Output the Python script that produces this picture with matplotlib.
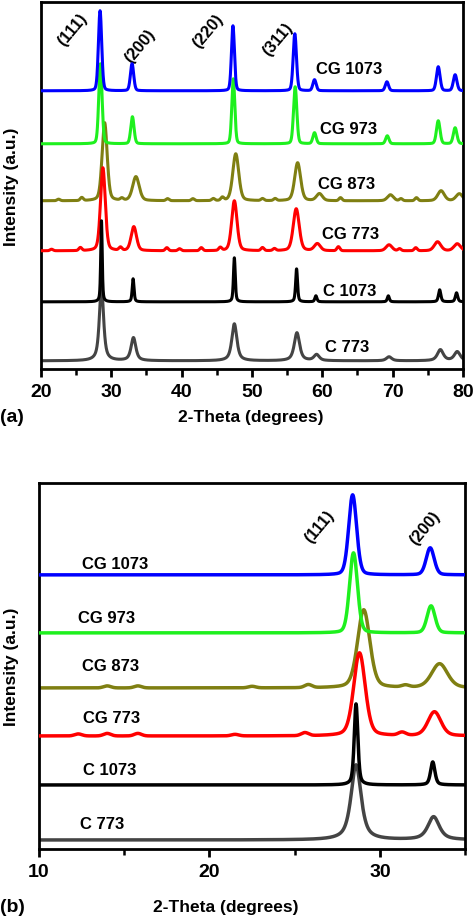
import matplotlib.pyplot as plt
import numpy as np

plt.rcParams['font.family'] = ['Liberation Sans', 'DejaVu Sans']
plt.rcParams['font.weight'] = 'bold'

# samples, bottom to top
samples = ["C 773", "C 1073", "CG 773", "CG 873", "CG 973", "CG 1073"]
colors = ['#444444', '#000000', '#ff0000', '#7f7f12', '#1ef01e', '#0000ff']

# peak positions (2-theta, deg)
peak_pos = [
    [28.6, 33.15, 47.5, 56.4, 59.2, 69.5, 76.8, 79.2],
    [28.6, 33.1, 47.5, 56.35, 59.1, 69.4, 76.7, 79.1],
    [28.8, 33.2, 47.5, 56.3, 59.3, 69.5, 76.4, 79.2],
    [29.05, 33.5, 47.7, 56.5, 59.6, 69.7, 76.9, 79.5],
    [28.45, 33.0, 47.35, 56.15, 58.9, 69.25, 76.5, 78.9],
    [28.4, 32.95, 47.3, 56.1, 58.9, 69.2, 76.5, 78.9],
]
# peak heights (a.u.)
peak_h = [
    [75, 23, 37, 28, 6, 4, 11, 9],
    [81, 23, 44, 33, 6, 6, 12, 9],
    [83, 24, 50, 42, 7, 6, 9, 7],
    [78, 24, 47, 38, 7, 6, 10, 7],
    [80, 27, 65, 57, 11, 8, 23, 16],
    [80, 27, 65, 57, 11, 9, 24, 16],
]
# peak widths (FWHM, deg)
peak_w = [
    [0.7, 0.8, 0.85, 0.9, 0.9, 0.9, 1.0, 1.0],
    [0.25, 0.3, 0.3, 0.32, 0.35, 0.35, 0.4, 0.4],
    [0.8, 0.9, 0.9, 1.0, 1.0, 1.0, 1.1, 1.1],
    [0.85, 1.1, 1.0, 1.0, 1.0, 1.0, 1.1, 1.1],
    [0.55, 0.55, 0.5, 0.55, 0.55, 0.55, 0.6, 0.6],
    [0.55, 0.55, 0.5, 0.55, 0.55, 0.55, 0.6, 0.6],
]
lorentz_frac = [0.7, 0.5, 0.3, 0.3, 0.2, 0.2]

# small background bumps (position, height)
bumps = [
    [],
    [],
    [(12.3, 2), (14.0, 2.5), (15.8, 2.5), (21.5, 1.5), (25.6, 3), (31.3, 3), (37.9, 3),
     (39.7, 2), (42.8, 3), (45.5, 3), (51.5, 3), (53.2, 2), (62.3, 4), (71.0, 2), (73.3, 3)],
    [(14.0, 2), (15.8, 2), (22.5, 1.5), (25.8, 3), (31.5, 2), (38.0, 2), (41.6, 2), (44.5, 2),
     (45.8, 3), (51.5, 2), (53.3, 2), (62.6, 3), (71.2, 2), (73.4, 3)],
    [],
    [],
]

# vertical offsets of each pattern in the two panels
offset_a = [8, 67, 118, 168, 225, 278]
offset_b = [9, 64, 113, 161, 216, 274]

hkl_a = ["(111)", "(200)", "(220)", "(311)"]
hkl_b = ["(111)", "(200)"]


def profile(x, i):
    y = np.zeros_like(x)
    eta = lorentz_frac[i]
    for p, h, w in zip(peak_pos[i], peak_h[i], peak_w[i]):
        g = np.exp(-4 * np.log(2) * ((x - p) / w) ** 2)
        l = 1 / (1 + 4 * ((x - p) / w) ** 2)
        y += h * ((1 - eta) * g + eta * l)
    for p, h in bumps[i]:
        y += h * np.exp(-4 * np.log(2) * ((x - p) / 0.5) ** 2)
    return y


zorders = [1, 4, 3, 2, 5, 6]

fig = plt.figure(figsize=(4.74, 9.2), dpi=100)

# ---- panel (a)
ax1 = fig.add_axes([0.0865, 0.598, 0.890, 0.399])
xa = np.arange(20, 80.01, 0.02)
for i in range(len(samples)):
    ax1.plot(xa, profile(xa, i) + offset_a[i], color=colors[i], lw=2.2, zorder=zorders[i])
ax1.set_xlim(20, 80)
ax1.set_ylim(0, 367)
ax1.set_xticks(np.arange(20, 81, 10))
ax1.set_xticks(np.arange(25, 80, 10), minor=True)

lab_a_x = [60.4, 60.1, 60.0, 59.4, 59.7, 59.1]
lab_a_y = [22, 78, 135, 185, 240, 300]
for i, s in enumerate(samples):
    ax1.text(lab_a_x[i], lab_a_y[i], s, fontsize=12, fontweight='bold', ha='left', va='center')
hkl_a_x = [24.4, 34.1, 43.8, 53.6]
hkl_a_y = [340, 323, 338, 330]
for t, x, y in zip(hkl_a, hkl_a_x, hkl_a_y):
    ax1.text(x, y, t, fontsize=12, fontweight='bold', rotation=50, ha='center', va='center')

# ---- panel (b)
ax2 = fig.add_axes([0.0823, 0.0761, 0.899, 0.398])
xb = np.arange(10, 35.01, 0.01)
for i in range(len(samples)):
    ax2.plot(xb, profile(xb, i) + offset_b[i], color=colors[i], lw=2.5, zorder=zorders[i])
ax2.set_xlim(10, 35)
ax2.set_ylim(0, 366)
ax2.set_xticks([10, 20, 30])
ax2.set_xticks([15, 25, 35], minor=True)

lab_b_x = [12.4, 12.6, 12.6, 12.5, 12.3, 12.5]
lab_b_y = [25, 79, 131, 183, 231, 285]
for i, s in enumerate(samples):
    ax2.text(lab_b_x[i], lab_b_y[i], s, fontsize=12, fontweight='bold', ha='left', va='center')
hkl_b_x = [26.46, 32.65]
hkl_b_y = [323, 322]
for t, x, y in zip(hkl_b, hkl_b_x, hkl_b_y):
    ax2.text(x, y, t, fontsize=12, fontweight='bold', rotation=50, ha='center', va='center')

for ax in (ax1, ax2):
    ax.set_yticks([])
    for sp in ax.spines.values():
        sp.set_linewidth(2)
    ax.tick_params(axis='x', which='major', direction='out', length=6, width=2,
                   labelsize=14, pad=4)
    ax.tick_params(axis='x', which='minor', direction='out', length=4, width=1.8)
    for lbl in ax.get_xticklabels():
        lbl.set_fontweight('bold')

fig.text(0.025, 0.797, "Intensity (a.u.)", rotation=90, ha='center', va='center',
         fontsize=12.5, fontweight='bold')
fig.text(0.025, 0.275, "Intensity (a.u.)", rotation=90, ha='center', va='center',
         fontsize=12.5, fontweight='bold')
fig.text(0.53, 0.546, "2-Theta (degrees)", ha='center', va='center', fontsize=12.5, fontweight='bold')
fig.text(0.477, 0.014, "2-Theta (degrees)", ha='center', va='center', fontsize=12.5, fontweight='bold')
fig.text(0.0, 0.546, "(a)", ha='left', va='center', fontsize=14, fontweight='bold')
fig.text(0.0, 0.014, "(b)", ha='left', va='center', fontsize=14, fontweight='bold')

fig.savefig("out.png", dpi=100)
